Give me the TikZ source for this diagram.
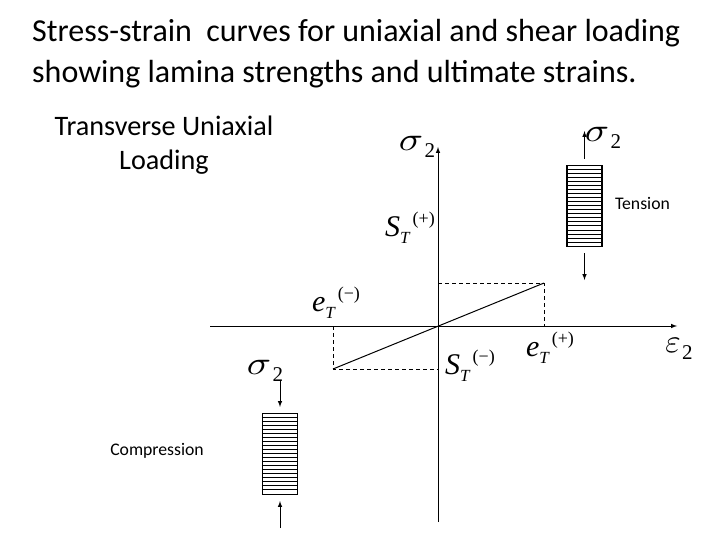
\documentclass[tikz,border=0pt]{standalone}
\usepackage{fontspec}
\setmainfont{Carlito}
\newfontfamily\timesfont{Liberation Serif}
\usetikzlibrary{calc,arrows,positioning}
\newcommand{\sym}[2]{\scalebox{#1}[3.3]{$#2$}\hspace{1.5pt}\raisebox{-7pt}{\timesfont\fontsize{21}{21}\selectfont 2}}
\newcommand{\limit}[2]{{\timesfont\fontsize{30}{30}\selectfont\itshape #1\raisebox{-7pt}{\fontsize{17}{17}\selectfont T}\raisebox{12pt}{\hspace{3pt}\fontsize{18}{18}\selectfont\upshape(#2)}}}
\tikzset{
    titletext/.style={anchor=north west,inner sep=0pt,font=\fontsize{32}{41}\selectfont,align=left},
    headtext/.style={inner sep=0pt,font=\fontsize{28.2}{33.5}\selectfont,align=center},
    smalltext/.style={inner sep=0pt,font=\fontsize{17.7}{20}\selectfont},
    labeltext/.style={inner sep=0pt,anchor=center},
    blockbox/.style={draw,line width=1.1pt,minimum width=35pt,minimum height=81pt,inner sep=0pt},
    axisline/.style={line width=1pt,-latex},
    loadline/.style={line width=1pt,-latex},
    limitline/.style={line width=0.9pt,dashed,dash pattern=on 4pt off 3pt},
}
\begin{document}
\begin{tikzpicture}[x=1pt,y=-1pt]
    \useasboundingbox (0,0) rectangle (720,540);

    \node[titletext] (title) at (32,19) {Stress-strain\ \ curves for uniaxial and shear loading\\showing lamina strengths and ultimate strains.};
    \node[headtext] (head) at (164,145) {Transverse Uniaxial\\Loading};

    \coordinate (o) at (438,326);
    \coordinate (up) at (438,147);
    \coordinate (down) at (438,522);
    \coordinate (left) at (210,326);
    \coordinate (right) at (677,326);
    \coordinate (peak) at (544,283);
    \coordinate (low) at (333,369);

    \draw[axisline] (down)--(up);
    \draw[axisline] (left)--(right);
    \draw[line width=1pt] (low)--(peak);
    \draw[limitline] (o |- peak)--(peak)--(peak |- o);
    \draw[limitline] (low |- o)--(low)--(o |- low);

    % loaded blocks
    \node[blockbox] (tension) at (584.5,206) {};
    \node[blockbox] (compression) at (280,454) {};
    \foreach \n in {1,...,19} {
        \draw[line width=0.5pt] ($(tension.north west)+(0,\n*4.05)$)--($(tension.north east)+(0,\n*4.05)$);
        \draw[line width=0.5pt] ($(compression.north west)+(0,\n*4)$)--($(compression.north east)+(0,\n*4)$);
    }

    \coordinate (tensiontop) at (584.5,131);
    \coordinate (tensionend) at (584.5,280);
    \coordinate (compressiontop) at (280,380);
    \coordinate (compressionend) at (280,528);
    \draw[loadline,shorten <=6pt] (tension.north)--(tensiontop);
    \draw[loadline,shorten <=6pt] (tension.south)--(tensionend);
    \draw[loadline,shorten >=6pt] (compressiontop)--(compression.north);
    \draw[loadline,shorten >=6pt] (compressionend)--(compression.south);

    \node[smalltext] (tensionlabel) at (642.5,203) {Tension};
    \node[smalltext] (compressionlabel) at (157,451) {Compression};

    \node[labeltext] (sigmaaxis) at (417,147) {\sym{4}{\sigma}};
    \node[labeltext] (sigmaup) at (603,138) {\sym{4}{\sigma}};
    \node[labeltext] (sigmadown) at (265,371) {\sym{4}{\sigma}};
    \node[labeltext] (epsaxis) at (679,349) {\sym{3.3}{\varepsilon}};

    \node[labeltext] (stplus) at (410,228) {\limit{S}{+}};
    \node[labeltext] (stminus) at (470,366) {\limit{S}{−}};
    \node[labeltext] (etplus) at (550,348) {\limit{e}{+}};
    \node[labeltext] (etminus) at (336,303) {\limit{e}{−}};

\end{tikzpicture}
\end{document}
